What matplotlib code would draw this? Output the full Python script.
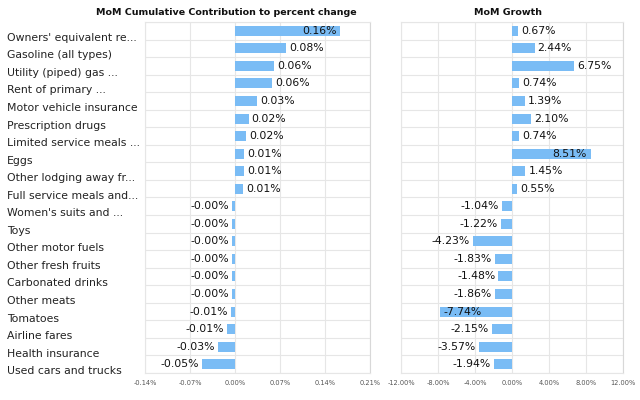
import matplotlib
matplotlib.use("Agg")
import matplotlib.pyplot as plt
import matplotlib.transforms as mtransforms
import numpy as np
from matplotlib.ticker import FixedLocator

categories = [
    "Owners' equivalent re...", "Gasoline (all types)", "Utility (piped) gas ...",
    "Rent of primary ...", "Motor vehicle insurance", "Prescription drugs",
    "Limited service meals ...", "Eggs", "Other lodging away fr...",
    "Full service meals and...", "Women's suits and ...", "Toys",
    "Other motor fuels", "Other fresh fruits", "Carbonated drinks",
    "Other meats", "Tomatoes", "Airline fares", "Health insurance",
    "Used cars and trucks",
]
contribution = [0.164, 0.079, 0.061, 0.058, 0.034, 0.021, 0.017, 0.014, 0.014, 0.013,
                -0.004, -0.004, -0.004, -0.004, -0.004, -0.004, -0.0067, -0.012, -0.027, -0.052]
growth = [0.67, 2.44, 6.75, 0.74, 1.39, 2.10, 0.74, 8.51, 1.45, 0.55,
          -1.04, -1.22, -4.23, -1.83, -1.48, -1.86, -7.74, -2.15, -3.57, -1.94]
left_ticks = [-0.14, -0.07, 0.0, 0.07, 0.14, 0.21]
right_ticks = [-12, -8, -4, 0, 4, 8, 12]

BAR = "#7abcf5"
GRID = "#e6e6e6"
W, H = 640, 400
fig = plt.figure(figsize=(6.4, 4.0), dpi=100)

ax1 = fig.add_axes([145 / W, 1 - 373 / H, 225 / W, 351 / H])
ax2 = fig.add_axes([401 / W, 1 - 373 / H, 222 / W, 351 / H])

y = np.arange(len(categories))


def style(ax, ticks, fmt):
    ax.set_ylim(len(categories) - 0.5, -0.5)
    ax.set_xlim(ticks[0], ticks[-1])
    ax.set_xticks(ticks)
    ax.set_xticklabels([fmt(t) for t in ticks], fontsize=4.8, color="#555555")
    ax.yaxis.set_minor_locator(FixedLocator(np.arange(-0.5, len(categories), 1.0)))
    ax.grid(True, axis="x", color=GRID, linewidth=0.8)
    ax.grid(True, axis="y", which="minor", color=GRID, linewidth=0.8)
    ax.set_axisbelow(True)
    ax.tick_params(axis="x", length=0, pad=5)
    ax.tick_params(axis="y", which="both", length=0)
    for s in ax.spines.values():
        s.set_color(GRID)
        s.set_linewidth(0.8)
    ax.spines["right"].set_color("#d8d8d8")


def add_labels(ax, vals, fmt):
    fig.canvas.draw()
    r = fig.canvas.get_renderer()
    abox = ax.get_window_extent(r)
    for yi, v in zip(y, vals):
        s = fmt(v)
        if v >= 0:
            t = ax.annotate(s, (v, yi), xytext=(2.2, 0), textcoords="offset points",
                            ha="left", va="center", fontsize=7.8, color="#111111")
            bb = t.get_window_extent(r)
            if bb.x1 > abox.x1:
                t.set_position((-2.8, 0))
                t.set_ha("right")
        else:
            t = ax.annotate(s, (v, yi), xytext=(-2.2, 0), textcoords="offset points",
                            ha="right", va="center", fontsize=7.8, color="#111111")
            bb = t.get_window_extent(r)
            if bb.x0 < abox.x0:
                t.set_position((2.2, 0))
                t.set_ha("left")


ax1.barh(y, contribution, height=0.57, color=BAR)
style(ax1, left_ticks, lambda t: f"{t:.2f}%")
ax1.set_yticks(y)
ax1.set_yticklabels(categories, fontsize=7.8, color="#222222", ha="left")
ax1.tick_params(axis="y", pad=138 * 72 / 100)
shift = mtransforms.ScaledTranslation(0, -6 / 100, fig.dpi_scale_trans)
for lab in ax1.get_yticklabels():
    lab.set_transform(lab.get_transform() + shift)

ax2.barh(y, growth, height=0.57, color=BAR)
style(ax2, right_ticks, lambda t: f"{t:.2f}%")
ax2.set_yticks(y)
ax2.set_yticklabels([])

add_labels(ax1, contribution, lambda v: f"{v:.2f}%")
add_labels(ax2, growth, lambda v: f"{v:.2f}%")

fig.text(226 / W, 1 - 12.5 / H, "MoM Cumulative Contribution to percent change",
         ha="center", va="center", fontsize=6.8, fontweight="bold", color="#111111")
fig.text(508 / W, 1 - 12.5 / H, "MoM Growth",
         ha="center", va="center", fontsize=6.8, fontweight="bold", color="#111111")

fig.savefig("out.png", dpi=100)
